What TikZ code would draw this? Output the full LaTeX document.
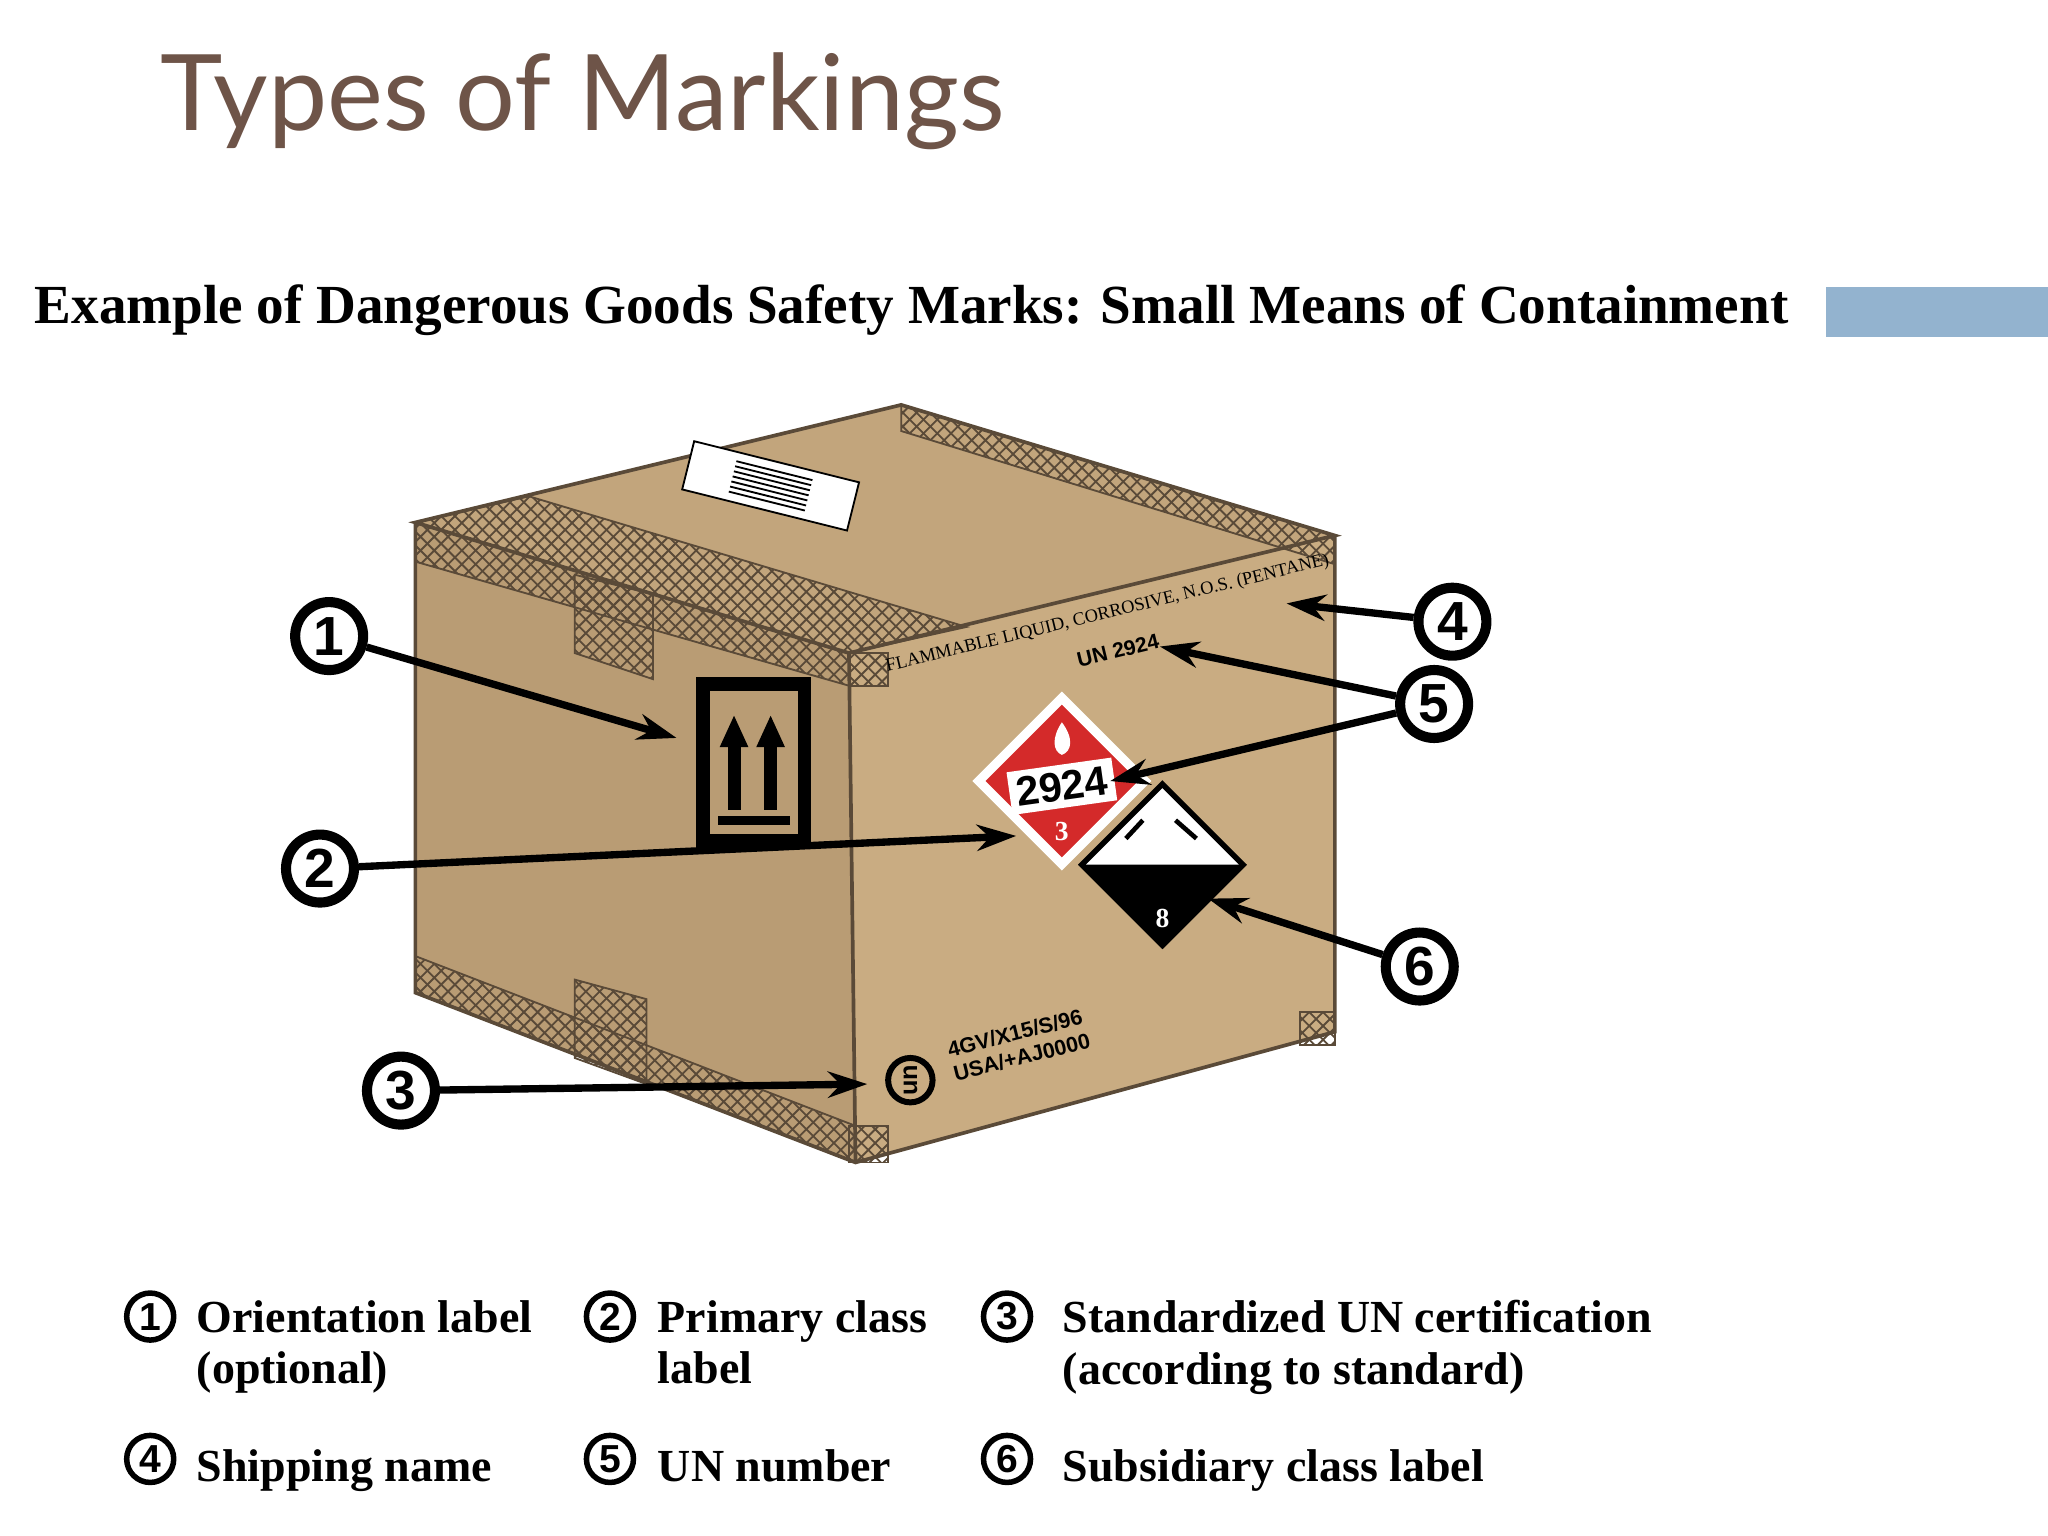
\documentclass[tikz,border=0pt]{standalone}
\usepackage{fontspec}
\setmainfont{Liberation Serif}
\newfontfamily\titlefont{Lato}
\newfontfamily\sansf{Liberation Sans}
\usetikzlibrary{patterns,arrows.meta,shapes.geometric}
\definecolor{titlec}{HTML}{6E5448}
\definecolor{barblue}{HTML}{93B3CF}
\definecolor{faceL}{HTML}{B99C74}
\definecolor{faceR}{HTML}{C9AC82}
\definecolor{faceT}{HTML}{C2A57C}
\definecolor{hatch}{HTML}{5A4A38}
\definecolor{dgred}{HTML}{D42A2A}
\tikzset{
  num/.style={circle,draw,line width=2.2pt,fill=white,minimum size=0.52cm,inner sep=0pt,font=\sansf\bfseries\fontsize{12}{12}\selectfont},
  lnum/.style={circle,draw,line width=1.2pt,minimum size=0.36cm,inner sep=0pt,font=\sansf\bfseries\fontsize{8.5}{8.5}\selectfont},
  ptr/.style={line width=1.6pt,-{Stealth[length=0.3cm,width=0.2cm]}},
  legend/.style={anchor=north west,align=left,font=\bfseries\fontsize{10}{11.2}\selectfont,inner sep=0pt},
  tape/.style={pattern=crosshatch,pattern color=hatch,draw=hatch,line width=0.4pt}
}
\begin{document}
\begin{tikzpicture}[x=0.01cm,y=-0.01cm]
\useasboundingbox[fill=white] (0,0) rectangle (1568,1176);
\node[anchor=base west,text=titlec,font=\titlefont\fontsize{23}{23}\selectfont,inner sep=0pt] (title) at (122,100) {Types of Markings};
\fill[barblue] (1398,220) rectangle (1568,258);
\node[anchor=base west,font=\bfseries\fontsize{12}{13}\selectfont,inner sep=0pt] (sub) at (26,248) {Example of Dangerous Goods Safety Marks: Small Means of Containment};
% box faces
\fill[faceL] (318,400) -- (650,500) -- (655,890) -- (318,760) -- cycle;
\fill[faceR] (650,500) -- (1022,410) -- (1022,790) -- (655,890) -- cycle;
\fill[faceT] (318,400) -- (690,310) -- (1022,410) -- (650,500) -- cycle;
% tapes
\path[tape] (318,400) -- (405,380) -- (740,480) -- (650,500) -- cycle;
\path[tape] (318,400) -- (650,500) -- (650,525) -- (318,430) -- cycle;
\path[tape] (690,310) -- (1022,410) -- (1022,432) -- (690,330) -- cycle;
\path[tape] (318,732) -- (655,862) -- (655,890) -- (318,760) -- cycle;
\path[tape] (440,440) -- (500,455) -- (500,520) -- (440,500) -- cycle;
\path[tape] (440,750) -- (495,765) -- (495,830) -- (440,810) -- cycle;
\path[tape] (650,500) rectangle (680,525);
\path[tape] (650,862) rectangle (680,890);
\path[tape] (995,775) rectangle (1022,800);
\draw[hatch,line width=0.8pt] (318,400) -- (690,310) -- (1022,410) -- (650,500) -- cycle
  (318,400) -- (318,760) -- (655,890) -- (1022,790) -- (1022,410) (650,500) -- (655,890);
% top label
\node[draw,fill=white,rotate=-14,minimum width=1.3cm,minimum height=0.38cm] (toplab) at (590,372) {};
\foreach \i in {-3,...,3} \draw[rotate around={-14:(590,372)}] (560,372+\i*4) -- (620,372+\i*4);
% orientation label
\node[draw=black,line width=3pt,minimum width=0.78cm,minimum height=1.2cm] (orient) at (577,584) {};
\foreach \xx in {562,590}{
  \fill (\xx-5,620) rectangle (\xx+5,570);
  \fill (\xx-11,572) -- (\xx,548) -- (\xx+11,572) -- cycle;}
\draw[line width=2pt] (550,628) -- (605,628);
% primary label
\node[draw=white,line width=2pt,fill=dgred,diamond,minimum size=1.3cm,inner sep=0pt,shape aspect=1] (prim) at (813,598) {};
\node[fill=white,font=\sansf\bfseries\fontsize{9}{9}\selectfont,inner sep=1.5pt,rotate=8] (pnum) at (813,602) {2924};
\node[text=white,font=\bfseries\fontsize{6}{6}\selectfont] (p3) at (813,637) {3};
\fill[white] (813,553) .. controls (805,565) and (806,575) .. (813,578) .. controls (821,575) and (822,565) .. (813,553);
% subsidiary label
\node[draw=black,line width=1.2pt,fill=white,diamond,minimum size=1.25cm,inner sep=0pt,shape aspect=1] (subs) at (890,662) {};
\fill (subs.west) -- (subs.east) -- (subs.south) -- cycle;
\node[text=white,font=\bfseries\fontsize{6}{6}\selectfont] (s8) at (890,703) {8};
\draw[line width=1pt] (862,642) -- (875,628) (900,628) -- (916,642);
% texts on right face
\node[rotate=13.6,font=\fontsize{4}{5}\selectfont,inner sep=0pt] (ship) at (848,470) {FLAMMABLE LIQUID, CORROSIVE, N.O.S. (PENTANE)};
\node[rotate=13.6,font=\sansf\bfseries\fontsize{4.6}{5}\selectfont,inner sep=0pt] (un) at (856,498) {UN 2924};
\node[rotate=14,font=\sansf\bfseries\fontsize{4.7}{5.4}\selectfont,inner sep=0pt,align=left] (cert) at (780,800) {4GV/X15/S/96\\USA/+AJ0000};
\node[circle,draw,line width=1.3pt,minimum size=0.34cm,inner sep=0pt,font=\sansf\bfseries\fontsize{5.5}{5.5}\selectfont] (unsym) at (697,827) {\rotatebox{90}{un}};
% callouts
\node[num] (n1) at (252,487) {1};
\node[num] (n2) at (245,665) {2};
\node[num] (n3) at (307,835) {3};
\node[num] (n4) at (1112,476) {4};
\node[num] (n5) at (1098,539) {5};
\node[num] (n6) at (1087,740) {6};
\coordinate (t1) at (518,565);
\coordinate (t2) at (778,640);
\coordinate (t3) at (664,830);
\coordinate (t4) at (985,462);
\coordinate (t5a) at (888,495);
\coordinate (t5b) at (850,598);
\coordinate (t6) at (925,688);
\draw[ptr] (n1) -- (t1);
\draw[ptr] (n2) -- (t2);
\draw[ptr] (n3) -- (t3);
\draw[ptr] (n4) -- (t4);
\draw[ptr] (n5) -- (t5a);
\draw[ptr] (n5) -- (t5b);
\draw[ptr] (n6) -- (t6);
% legend
\node[lnum] (l1) at (115,1008) {1};
\node[lnum] (l2) at (467,1008) {2};
\node[lnum] (l3) at (771,1008) {3};
\node[lnum] (l4) at (115,1117) {4};
\node[lnum] (l5) at (467,1117) {5};
\node[lnum] (l6) at (771,1117) {6};
\node[legend] (g1) at (150,995) {Orientation label\\(optional)};
\node[legend] (g2) at (503,995) {Primary class\\label};
\node[legend] (g3) at (813,995) {Standardized UN certification\\(according to standard)};
\node[legend] (g4) at (150,1109) {Shipping name};
\node[legend] (g5) at (503,1109) {UN number};
\node[legend] (g6) at (813,1109) {Subsidiary class label};
\end{tikzpicture}
\end{document}
